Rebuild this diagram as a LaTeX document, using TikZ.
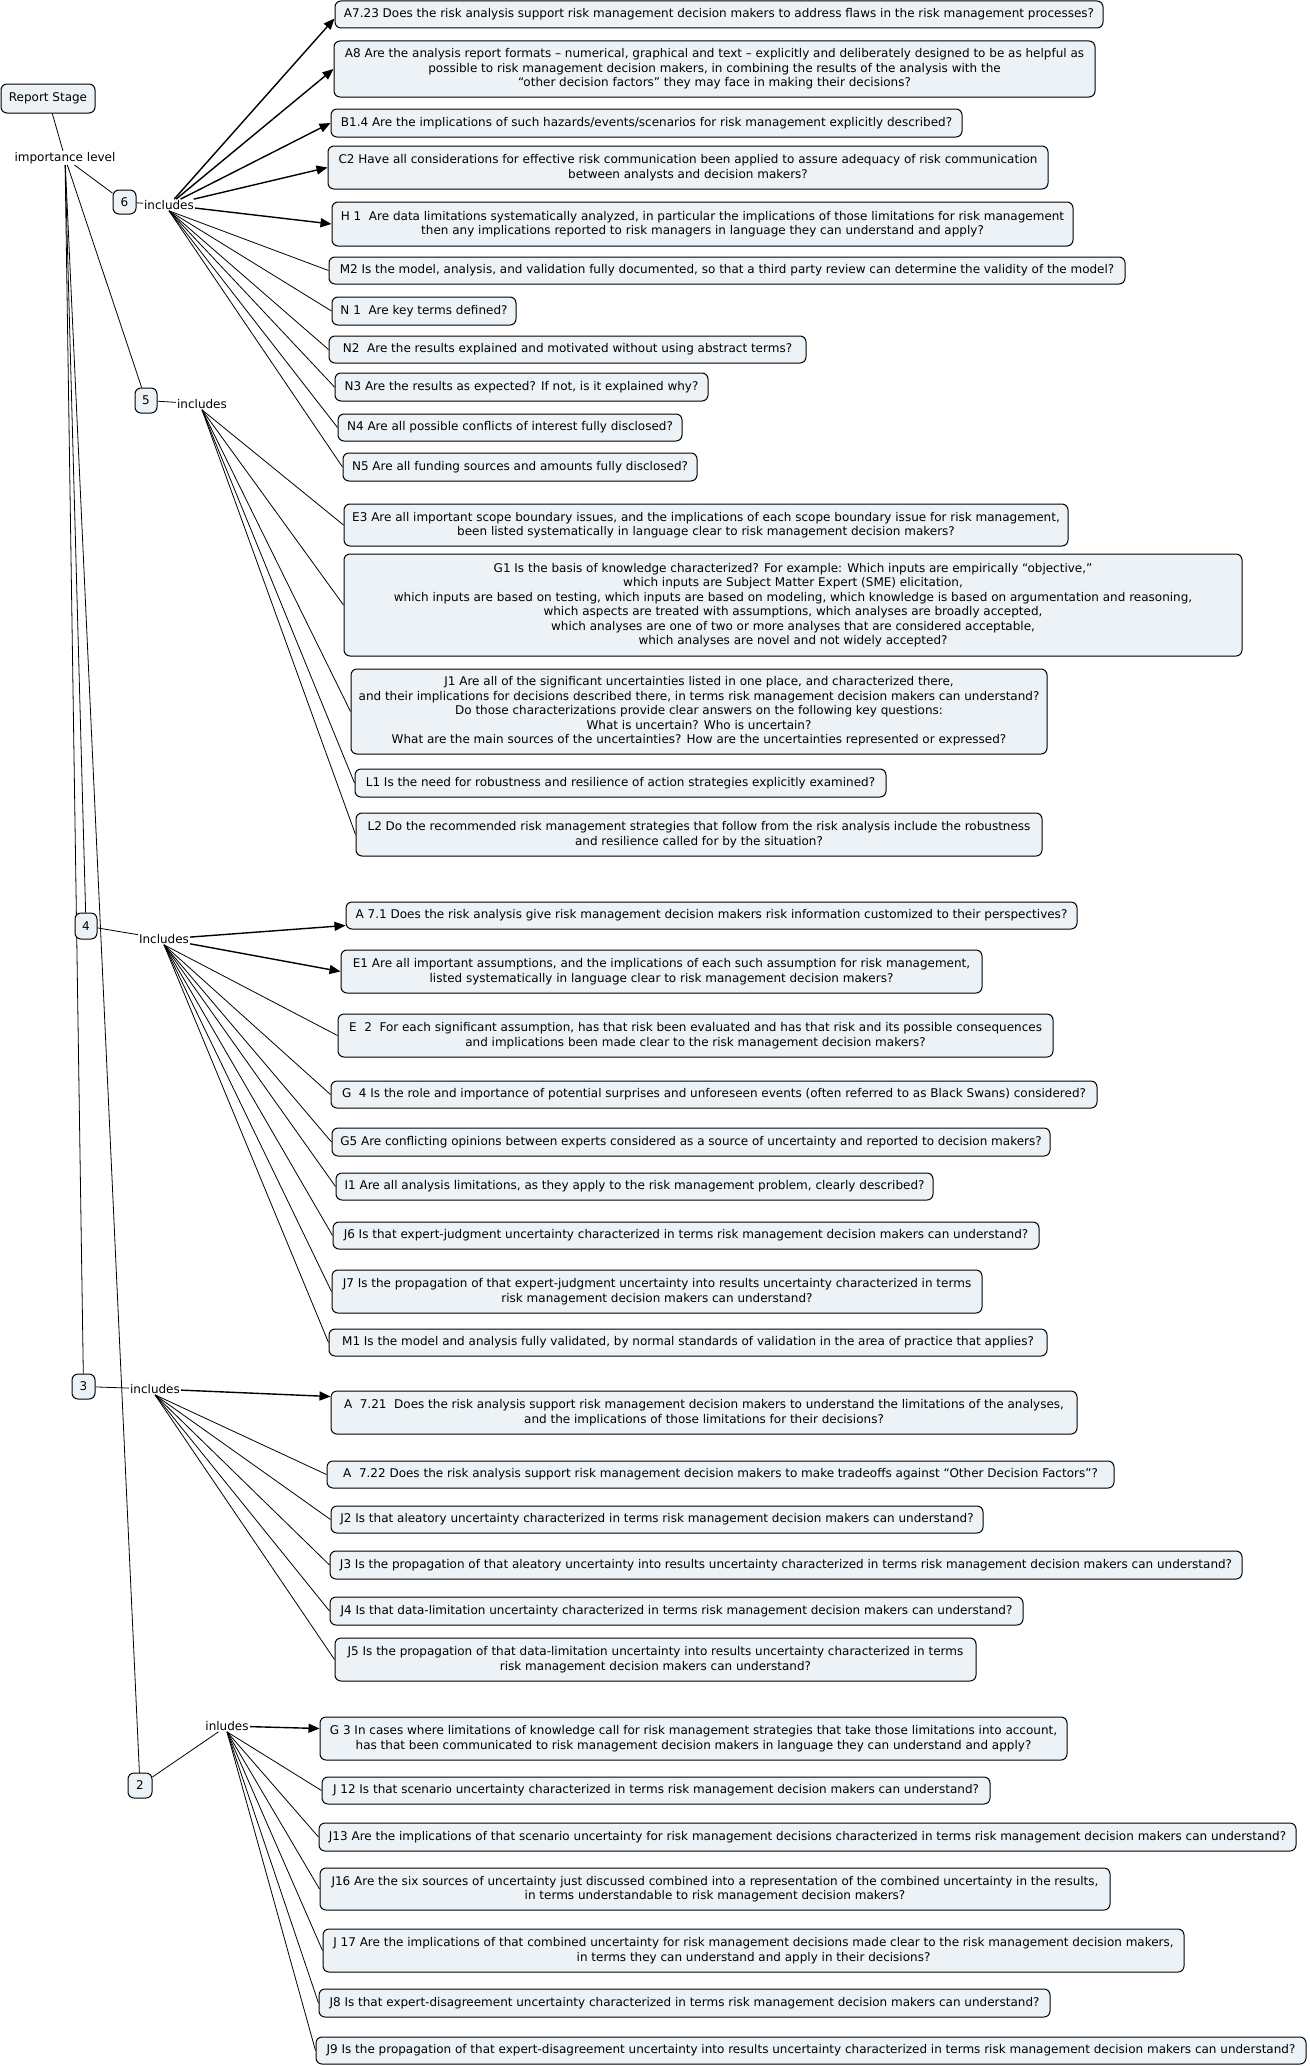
\documentclass[tikz,border=0pt]{standalone}
\usepackage{fontspec}
\setmainfont{DejaVu Sans}
\usetikzlibrary{arrows.meta,backgrounds}
\definecolor{boxfill}{RGB}{236,242,245}
\newcommand\qfont{\fontsize{12}{14.5}\selectfont}
\tikzset{
  qbox/.style={draw=black, line width=1pt, fill=boxfill, rounded corners=6pt, inner sep=0pt, align=center, font=\qfont, text=black},
  lbl/.style={inner sep=1pt, font=\qfont, text=black},
  lnk/.style={line width=0.8pt, black},
  arr/.style={line width=1.4pt, black, -{Triangle[length=11pt,width=9pt]}}
}
\begin{document}
\begin{tikzpicture}[x=1pt,y=-1pt]
\useasboundingbox (0,0) rectangle (1309,2066);
% left structure
\node[qbox,minimum width=94pt,minimum height=29pt] (rs) at (48,98.5) {Report Stage};
\node[lbl] (imp) at (65,158) {importance level};
\node[qbox,minimum width=23pt,minimum height=24pt] (n6) at (124.5,202) {6};
\node[qbox,minimum width=22pt,minimum height=25pt] (n5) at (146,400.5) {5};
\node[qbox,minimum width=22pt,minimum height=26pt] (n4) at (86,926) {4};
\node[qbox,minimum width=23pt,minimum height=25pt] (n3) at (83.5,1386.5) {3};
\node[qbox,minimum width=24pt,minimum height=25pt] (n2) at (140,1785.5) {2};
\node[lbl] (inc6) at (169,205) {includes};
\node[lbl] (inc5) at (202,404) {includes};
\node[lbl] (inc4) at (164,939) {Includes};
\node[lbl] (inc3) at (155,1389) {includes};
\node[lbl] (inc2) at (227,1726) {inludes};
% group 6
\node[qbox,minimum width=768pt,minimum height=27pt] (A723) at (719,14.5) {A7.23 Does the risk analysis support risk management decision makers to address flaws in the risk management processes?};
\node[qbox,minimum width=761pt,minimum height=56pt] (A8) at (714.5,69) {A8 Are the analysis report formats – numerical, graphical and text – explicitly and deliberately designed to be as helpful as\\possible to risk management decision makers, in combining the results of the analysis with the\\“other decision factors” they may face in making their decisions?};
\node[qbox,minimum width=631pt,minimum height=28pt] (B14) at (646.5,123) {B1.4 Are the implications of such hazards/events/scenarios for risk management explicitly described?};
\node[qbox,minimum width=720pt,minimum height=43pt] (C2) at (688,167.5) {C2 Have all considerations for effective risk communication been applied to assure adequacy of risk communication\\between analysts and decision makers?};
\node[qbox,minimum width=741pt,minimum height=44pt] (H1) at (702.5,224) {H 1~~Are data limitations systematically analyzed, in particular the implications of those limitations for risk management\\then any implications reported to risk managers in language they can understand and apply?};
\node[qbox,minimum width=796pt,minimum height=27pt] (M2) at (727,270.5) {M2 Is the model, analysis, and validation fully documented, so that a third party review can determine the validity of the model?};
\node[qbox,minimum width=184pt,minimum height=28pt] (N1) at (424,311) {N 1~~Are key terms defined?};
\node[qbox,minimum width=477pt,minimum height=27pt] (N2) at (567.5,349.5) {N2~~Are the results explained and motivated without using abstract terms?};
\node[qbox,minimum width=373pt,minimum height=28pt] (N3) at (521.5,387) {N3 Are the results as expected? If not, is it explained why?};
\node[qbox,minimum width=344pt,minimum height=27pt] (N4) at (510,427.5) {N4 Are all possible conflicts of interest fully disclosed?};
\node[qbox,minimum width=354pt,minimum height=28pt] (N5) at (520,467) {N5 Are all funding sources and amounts fully disclosed?};
% group 5
\node[qbox,minimum width=724pt,minimum height=42pt] (E3) at (706,525) {E3 Are all important scope boundary issues, and the implications of each scope boundary issue for risk management,\\been listed systematically in language clear to risk management decision makers?};
\node[qbox,minimum width=898pt,minimum height=102pt] (G1) at (793,605) {G1 Is the basis of knowledge characterized? For example: Which inputs are empirically “objective,”\\which inputs are Subject Matter Expert (SME) elicitation,\\which inputs are based on testing, which inputs are based on modeling, which knowledge is based on argumentation and reasoning,\\which aspects are treated with assumptions, which analyses are broadly accepted,\\which analyses are one of two or more analyses that are considered acceptable,\\which analyses are novel and not widely accepted?};
\node[qbox,minimum width=696pt,minimum height=85pt] (J1) at (699,711.5) {J1 Are all of the significant uncertainties listed in one place, and characterized there,\\and their implications for decisions described there, in terms risk management decision makers can understand?\\Do those characterizations provide clear answers on the following key questions:\\What is uncertain? Who is uncertain?\\What are the main sources of the uncertainties? How are the uncertainties represented or expressed?};
\node[qbox,minimum width=531pt,minimum height=28pt] (L1) at (620.5,783) {L1 Is the need for robustness and resilience of action strategies explicitly examined?};
\node[qbox,minimum width=686pt,minimum height=43pt] (L2) at (699,834.5) {L2 Do the recommended risk management strategies that follow from the risk analysis include the robustness\\and resilience called for by the situation?};
% group 4
\node[qbox,minimum width=731pt,minimum height=27pt] (A71) at (711.5,915.5) {A 7.1 Does the risk analysis give risk management decision makers risk information customized to their perspectives?};
\node[qbox,minimum width=641pt,minimum height=43pt] (E1) at (661.5,971.5) {E1 Are all important assumptions, and the implications of each such assumption for risk management,\\listed systematically in language clear to risk management decision makers?};
\node[qbox,minimum width=715pt,minimum height=43pt] (E2) at (695.5,1035.5) {E~~2~~For each significant assumption, has that risk been evaluated and has that risk and its possible consequences\\and implications been made clear to the risk management decision makers?};
\node[qbox,minimum width=766pt,minimum height=27pt] (G4) at (714,1094.5) {G~~4 Is the role and importance of potential surprises and unforeseen events (often referred to as Black Swans) considered?};
\node[qbox,minimum width=718pt,minimum height=28pt] (G5) at (691,1142) {G5 Are conflicting opinions between experts considered as a source of uncertainty and reported to decision makers?};
\node[qbox,minimum width=597pt,minimum height=27pt] (I1) at (634.5,1186.5) {I1 Are all analysis limitations, as they apply to the risk management problem, clearly described?};
\node[qbox,minimum width=706pt,minimum height=27pt] (J6) at (686,1235.5) {J6 Is that expert-judgment uncertainty characterized in terms risk management decision makers can understand?};
\node[qbox,minimum width=650pt,minimum height=43pt] (J7) at (657,1291.5) {J7 Is the propagation of that expert-judgment uncertainty into results uncertainty characterized in terms\\risk management decision makers can understand?};
\node[qbox,minimum width=718pt,minimum height=27pt] (M1) at (688,1342.5) {M1 Is the model and analysis fully validated, by normal standards of validation in the area of practice that applies?};
% group 3
\node[qbox,minimum width=746pt,minimum height=43pt] (A721) at (704,1412.5) {A~~7.21~~Does the risk analysis support risk management decision makers to understand the limitations of the analyses,\\and the implications of those limitations for their decisions?};
\node[qbox,minimum width=787pt,minimum height=27pt] (A722) at (720.5,1474.5) {A~~7.22 Does the risk analysis support risk management decision makers to make tradeoffs against “Other Decision Factors”?};
\node[qbox,minimum width=652pt,minimum height=27pt] (J2) at (657,1519.5) {J2 Is that aleatory uncertainty characterized in terms risk management decision makers can understand?};
\node[qbox,minimum width=912pt,minimum height=28pt] (J3) at (786,1565) {J3 Is the propagation of that aleatory uncertainty into results uncertainty characterized in terms risk management decision makers can understand?};
\node[qbox,minimum width=693pt,minimum height=28pt] (J4) at (676.5,1611) {J4 Is that data-limitation uncertainty characterized in terms risk management decision makers can understand?};
\node[qbox,minimum width=641pt,minimum height=43pt] (J5) at (655.5,1659.5) {J5 Is the propagation of that data-limitation uncertainty into results uncertainty characterized in terms\\risk management decision makers can understand?};
% group 2
\node[qbox,minimum width=747pt,minimum height=43pt] (G3) at (693.5,1738.5) {G 3 In cases where limitations of knowledge call for risk management strategies that take those limitations into account,\\has that been communicated to risk management decision makers in language they can understand and apply?};
\node[qbox,minimum width=668pt,minimum height=27pt] (J12) at (656,1790.5) {J 12 Is that scenario uncertainty characterized in terms risk management decision makers can understand?};
\node[qbox,minimum width=977pt,minimum height=28pt] (J13) at (807.5,1837) {J13 Are the implications of that scenario uncertainty for risk management decisions characterized in terms risk management decision makers can understand?};
\node[qbox,minimum width=790pt,minimum height=42pt] (J16) at (715,1889) {J16 Are the six sources of uncertainty just discussed combined into a representation of the combined uncertainty in the results,\\in terms understandable to risk management decision makers?};
\node[qbox,minimum width=861pt,minimum height=43pt] (J17) at (753.5,1950.5) {J 17 Are the implications of that combined uncertainty for risk management decisions made clear to the risk management decision makers,\\in terms they can understand and apply in their decisions?};
\node[qbox,minimum width=731pt,minimum height=28pt] (J8) at (684.5,2003) {J8 Is that expert-disagreement uncertainty characterized in terms risk management decision makers can understand?};
\node[qbox,minimum width=990pt,minimum height=27pt] (J9) at (811,2050.5) {J9 Is the propagation of that expert-disagreement uncertainty into results uncertainty characterized in terms risk management decision makers can understand?};

\begin{scope}[on background layer]
\fill[white] (0,0) rectangle (1309,2066);
\draw[lnk] (rs) -- (imp);
\foreach \n in {n6,n5,n4,n3,n2} \draw[lnk] (imp) -- (\n);
\draw[lnk] (n6) -- (inc6);
\draw[lnk] (n5) -- (inc5);
\draw[lnk] (n4) -- (inc4);
\draw[lnk] (n3) -- (inc3);
\draw[lnk] (n2) -- (inc2);
\draw[arr] (inc6) -- ([yshift=-4pt]A723.west);
\foreach \b in {A8,B14,C2,H1} \draw[arr] (inc6) -- (\b.west);
\foreach \b in {M2,N1,N2,N3,N4,N5} \draw[lnk] (inc6.south) -- (\b.west);
\foreach \b in {E3,G1,J1,L1,L2} \draw[lnk] (inc5.south) -- (\b.west);
\draw[arr] (inc4) -- ([yshift=-10pt]A71.west);
\draw[arr] (inc4) -- (E1.west);
\foreach \b in {E2,G4,G5,I1,J6,J7,M1} \draw[lnk] (inc4.south) -- (\b.west);
\draw[arr] (inc3) -- ([yshift=16pt]A721.west);
\foreach \b in {A722,J2,J3,J4,J5} \draw[lnk] (inc3.south) -- (\b.west);
\draw[arr] (inc2) -- ([yshift=10pt]G3.west);
\foreach \b in {J12,J13,J16,J17,J8,J9} \draw[lnk] (inc2.south) -- (\b.west);
\end{scope}
\end{tikzpicture}
\end{document}
